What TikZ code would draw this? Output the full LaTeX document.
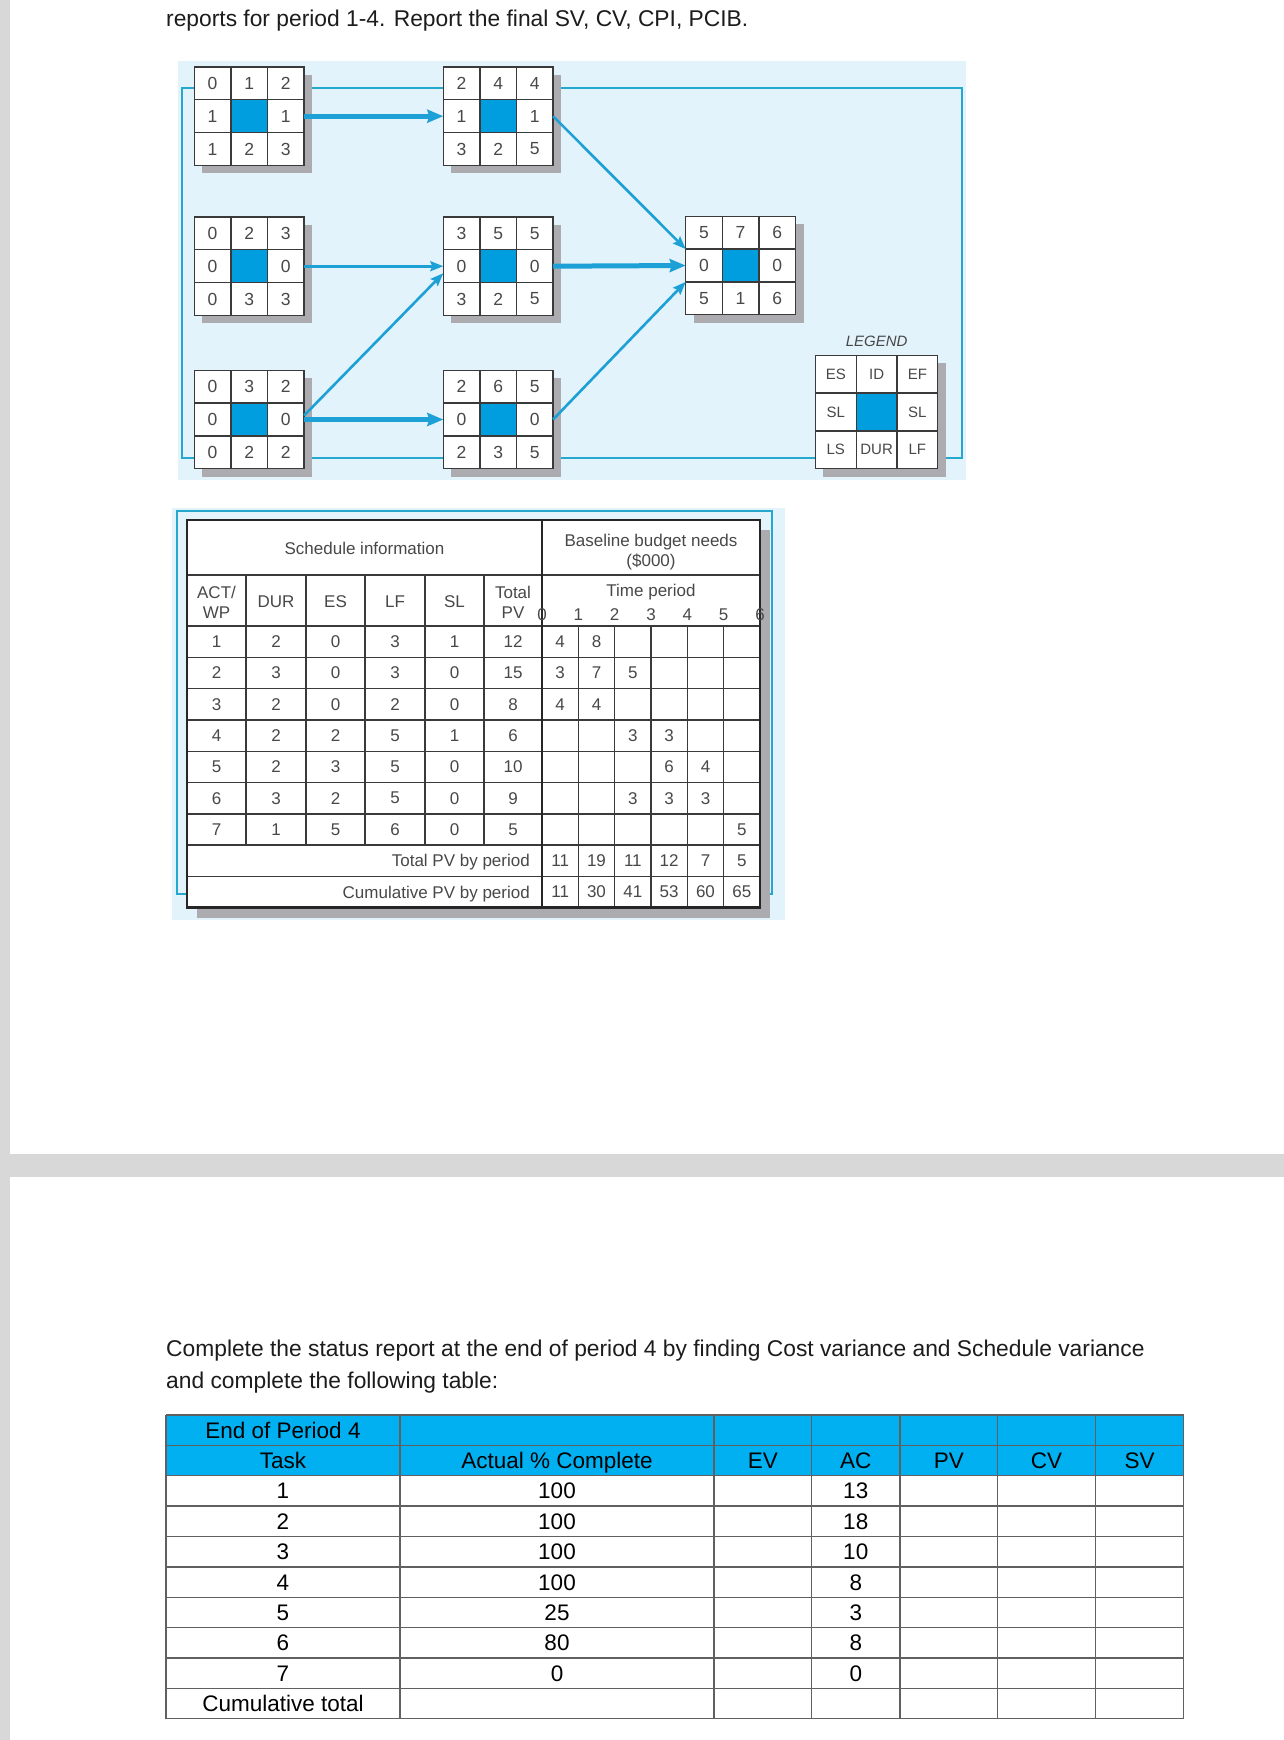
\documentclass[tikz,border=0pt]{standalone}
\usepackage{fontspec}
\setmainfont{Liberation Sans}
\usetikzlibrary{arrows.meta, positioning, calc}
\definecolor{pagegry}{RGB}{216,216,216}
\definecolor{netbg}  {RGB}{226,243,251}
\definecolor{frmteal}{RGB}{38,167,205}
\definecolor{arrblue}{RGB}{28,160,214}
\definecolor{cellblu}{RGB}{0,157,223}
\definecolor{cellln} {RGB}{58,58,58}
\definecolor{celltxt}{RGB}{72,72,72}
\definecolor{shadgry}{RGB}{172,172,176}
\definecolor{hdrcyan}{RGB}{0,176,240}
\definecolor{rptgry} {RGB}{96,96,96}
\definecolor{bodyink}{RGB}{28,28,28}
\newcommand{\netfont}{\fontsize{17.5}{20}\selectfont}
\newcommand{\legfont}{\fontsize{15}{18}\selectfont}
\newcommand{\tabfont}{\fontsize{17}{20}\selectfont}
\newcommand{\bodyfont}{\fontsize{22.8}{27}\selectfont}
\newcommand{\rptfont}{\fontsize{22.5}{27}\selectfont}
\tikzset{
  cell/.style={rectangle, draw=cellln, fill=white, line width=1.3pt,
    minimum width=\cw*1pt, minimum height=\ch*1pt, inner sep=0pt, outer sep=0pt,
    font=\netfont, text=celltxt},
  boxshadow/.style={fill=shadgry},
  frameln/.style={draw=frmteal, line width=2pt},
  thinarr/.style={-{Stealth[length=13pt,width=10pt,inset=2pt]}, line width=2.6pt, draw=arrblue},
  thickarr/.style={-{Stealth[length=16pt,width=13pt,inset=2pt]}, line width=5pt, draw=arrblue},
  tabtxt/.style={font=\tabfont, text=celltxt, inner sep=0pt},
  tabln/.style={draw=cellln, line width=1.4pt},
  tabbdr/.style={draw=black!85, line width=2.6pt},
  rpttxt/.style={font=\rptfont, text=black, inner sep=0pt, anchor=base},
  rptln/.style={draw=rptgry, line width=1.3pt},
  bodytxt/.style={font=\bodyfont, text=bodyink, inner sep=0pt, anchor=base west},
}
% #1 name, #2 top left, #3 ES, #4 ID, #5 EF, #6 SL, #7 LS, #8 DUR, #9 LF
\newcommand{\actbox}[9]{%
  \fill[boxshadow] ($#2+(8,8)$) rectangle ++(3*\cw,3*\ch);
  \node[cell, anchor=north west] (#1-es) at #2 {#3};
  \node[cell, right=0pt of #1-es] (#1-id) {#4};
  \node[cell, right=0pt of #1-id] (#1-ef) {#5};
  \node[cell, below=0pt of #1-es] (#1-sl) {#6};
  \node[cell, fill=cellblu, right=0pt of #1-sl] (#1-c) {};
  \node[cell, right=0pt of #1-c] (#1-sr) {#6};
  \node[cell, below=0pt of #1-sl] (#1-ls) {#7};
  \node[cell, right=0pt of #1-ls] (#1-dur) {#8};
  \node[cell, right=0pt of #1-dur] (#1-lf) {#9};
}
\begin{document}
\begin{tikzpicture}[x=1pt, y=-1pt]
\useasboundingbox (0,0) rectangle (1284,1740);
\fill[pagegry] (0,0) rectangle (1284,1740);
\fill[white] (10,0) rectangle (1284,1154);
\fill[white] (10,1177) rectangle (1284,1740);

\node[bodytxt] (introln) at (166,26.5) {reports for period 1-4. Report the final SV, CV, CPI, PCIB.};

% network
\def\xA{194.3}\def\xB{443.3}\def\xC{685.7}
\def\yA{67}\def\yB{217}\def\yC{370.3}
\fill[netbg] (178,61) rectangle (966,480);
\draw[frameln] (181.5,87.5) rectangle (962,458.3);
\def\cw{36.6}\def\ch{32.8}
\actbox{act1}{(\xA,\yA)}{0}{1}{2}{1}{1}{2}{3}
\actbox{act2}{(\xA,\yB)}{0}{2}{3}{0}{0}{3}{3}
\actbox{act3}{(\xA,\yC)}{0}{3}{2}{0}{0}{2}{2}
\actbox{act4}{(\xB,\yA)}{2}{4}{4}{1}{3}{2}{5}
\actbox{act5}{(\xB,\yB)}{3}{5}{5}{0}{3}{2}{5}
\actbox{act6}{(\xB,\yC)}{2}{6}{5}{0}{2}{3}{5}
\actbox{act7}{(\xC,216.3)}{5}{7}{6}{0}{5}{1}{6}
\begin{scope}[cell/.append style={font=\legfont}]
\def\cw{40.8}\def\ch{37.8}
\actbox{leg}{(815.4,355.3)}{ES}{ID}{EF}{SL}{LS}{DUR}{LF}
\end{scope}
\node[font=\itshape\legfont, text=celltxt, inner sep=0pt, above=8pt of leg-id] (legendlbl) {LEGEND};
\draw[thickarr] (act1-sr.east) -- (act4-sl.west);
\draw[thinarr] (act2-sr.east) -- (act5-sl.west);
\draw[thinarr] ($(act3-sr.east)+(0,-4)$) -- ($(act5-sl.west)+(0,7)$);
\draw[thickarr] (act3-sr.east) -- (act6-sl.west);
\draw[thinarr] (act4-sr.east) -- (act7-sl.north west);
\draw[thickarr] (act5-sr.east) -- (act7-sl.west);
\draw[thinarr] (act6-sr.east) -- (act7-sl.south west);

% schedule table
\def\tL{187}\def\tR{760}\def\tT{520}\def\tB{907.7}\def\tM{542}
\fill[netbg] (172,508) rectangle (785,920);
\draw[frameln] (176.5,511) rectangle (772,894);
\fill[boxshadow] (197,530) rectangle (770,918);
\fill[white] (\tL,\tT) rectangle (\tR,\tB);
\foreach \yy in {575,626,657.3,688.6,719.9,751.2,782.5,813.8,845.1,876.4}
  \draw[tabln] (\tL,\yy) -- (\tR,\yy);
\foreach \xx in {246,306,365,425,484}
  \draw[tabln] (\xx,575) -- (\xx,845.1);
\foreach \xx in {578.3,614.7,651,687.3,723.7}
  \draw[tabln] (\xx,626) -- (\xx,\tB);
\draw[tabbdr] (\tM,\tT) -- (\tM,\tB);
\draw[tabbdr] (\tL,\tT) rectangle (\tR,\tB);
\node[tabtxt] (schedhd) at (364.5,548) {Schedule information};
\node[tabtxt, align=center] (budghd) at (651,552) {Baseline budget needs\\(\$000)};
\node[tabtxt, align=center] (hd-act) at (216.5,602) {ACT/\\WP};
\node[tabtxt] (hd-dur) at (276,602) {DUR};
\node[tabtxt] (hd-es) at (335.5,602) {ES};
\node[tabtxt] (hd-lf) at (395,602) {LF};
\node[tabtxt] (hd-sl) at (454.5,602) {SL};
\node[tabtxt, align=center] (hd-pv) at (513,602.5) {Total\\PV};
\node[tabtxt] (hd-time) at (651,592) {Time period};
\foreach \k in {0,...,6}
  \node[tabtxt] (tp\k) at ({\tM+36.33*\k},615) {\k};
\foreach \r/\vdur/\ves/\vlf/\vsl/\vpv in {1/2/0/3/1/12, 2/3/0/3/0/15, 3/2/0/2/0/8,
    4/2/2/5/1/6, 5/2/3/5/0/10, 6/3/2/5/0/9, 7/1/5/6/0/5}
{
  \pgfmathsetmacro{\yy}{641.65+31.3*(\r-1)}
  \node[tabtxt] (wp\r) at (216.5,\yy) {\r};
  \node[tabtxt] (dur\r) at (276,\yy) {\vdur};
  \node[tabtxt] (es\r) at (335.5,\yy) {\ves};
  \node[tabtxt] (lf\r) at (395,\yy) {\vlf};
  \node[tabtxt] (sl\r) at (454.5,\yy) {\vsl};
  \node[tabtxt] (tpv\r) at (513,\yy) {\vpv};
}
\foreach \r/\c/\v in {1/1/4, 1/2/8, 2/1/3, 2/2/7, 2/3/5, 3/1/4, 3/2/4, 4/3/3, 4/4/3,
    5/4/6, 5/5/4, 6/3/3, 6/4/3, 6/5/3, 7/6/5}
  \node[tabtxt] (pv\r-\c) at ({\tM+36.33*(\c-0.5)},{641.65+31.3*(\r-1)}) {\v};
\node[tabtxt, anchor=base east] (totlbl) at (530,866.8) {Total PV by period};
\node[tabtxt, anchor=base east] (cumlbl) at (530,898.1) {Cumulative PV by period};
\foreach \v [count=\c] in {11,19,11,12,7,5}
  \node[tabtxt] (tot\c) at ({\tM+36.33*(\c-0.5)},860.75) {\v};
\foreach \v [count=\c] in {11,30,41,53,60,65}
  \node[tabtxt] (cum\c) at ({\tM+36.33*(\c-0.5)},892.05) {\v};

% status report
\node[bodytxt] (askln1) at (166,1356.5) {Complete the status report at the end of period 4 by finding Cost variance and Schedule variance};
\node[bodytxt] (askln2) at (166,1388.5) {and complete the following table:};
\def\rL{166}\def\rR{1183.5}\def\rT{1415}\def\rH{30.37}
\fill[hdrcyan] (\rL,\rT) rectangle (\rR,{\rT+2*\rH});
\foreach \k in {0,...,10}
  \draw[rptln] (\rL,{\rT+\k*\rH}) -- (\rR,{\rT+\k*\rH});
\foreach \xx in {166,400,714,811.5,900,997.5,1095.5,1183.5}
  \draw[rptln] (\xx,\rT) -- (\xx,{\rT+10*\rH});
\node[rpttxt] (endp) at (283,{\rT+0.5*\rH+8}) {End of Period 4};
\foreach \xx/\txt [count=\c] in {283/Task, 557/Actual \% Complete, 762.75/EV, 855.75/AC,
    948.75/PV, 1046.5/CV, 1139.5/SV}
  \node[rpttxt] (hd\c) at (\xx,{\rT+1.5*\rH+8}) {\txt};
\foreach \t/\pc/\ac in {1/100/13, 2/100/18, 3/100/10, 4/100/8, 5/25/3, 6/80/8, 7/0/0}
{
  \node[rpttxt] (task\t) at (283,{\rT+(\t+1.5)*\rH+8}) {\t};
  \node[rpttxt] (pct\t) at (557,{\rT+(\t+1.5)*\rH+8}) {\pc};
  \node[rpttxt] (ac\t) at (855.75,{\rT+(\t+1.5)*\rH+8}) {\ac};
}
\node[rpttxt] (cumtot) at (283,{\rT+9.5*\rH+8}) {Cumulative total};
\end{tikzpicture}
\end{document}
